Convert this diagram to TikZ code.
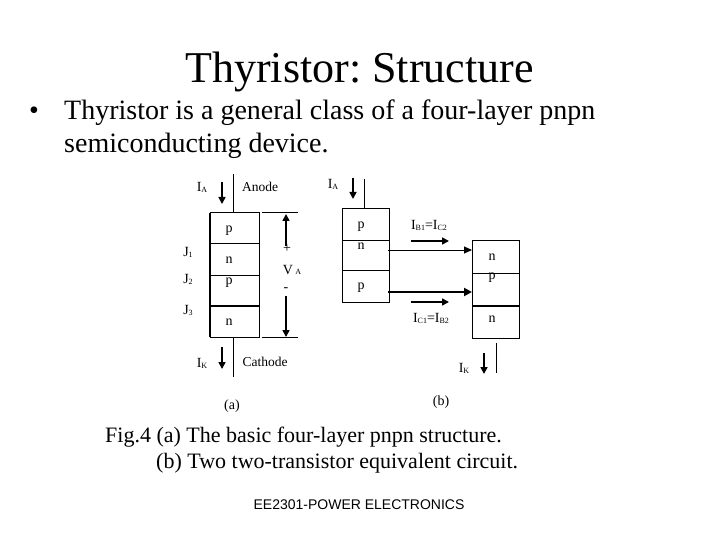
\documentclass[tikz,border=0pt]{standalone}
\usepackage{fontspec}
\setmainfont{Liberation Serif}
\newfontfamily\sansf{Liberation Sans}
\usetikzlibrary{arrows.meta}
\tikzset{
 x=1pt,y=-1pt,
 thin line/.style={line width=1pt,black},
 thick line/.style={line width=2pt,black},
 arr/.style={line width=1.6pt,-{Triangle[length=7pt,width=7pt]}},
 lab/.style={inner sep=0pt,font=\fontsize{14}{14}\selectfont},
 word/.style={inner sep=0pt,font=\fontsize{13.5}{14}\selectfont},
 slide/.style={inner sep=0pt,align=left,anchor=base west},
}
\newcommand{\subl}[2]{#1\raisebox{-1pt}{\fontsize{8}{8}\selectfont #2}}
\begin{document}
\frenchspacing
\begin{tikzpicture}
\useasboundingbox (0,0) rectangle (720,540);
\fill[white] (0,0) rectangle (720,540);
\node[inner sep=0pt,anchor=base] (title) at (359.5,83) {\fontsize{44}{44}\selectfont Thyristor: Structure};
\node[slide] (bullet) at (29,120) {\fontsize{28}{28}\selectfont •};
\node[slide] (b1) at (64,120) {\fontsize{28}{28}\selectfont Thyristor is a general class of a four-layer pnpn};
\node[slide] (b2) at (64,153) {\fontsize{28}{28}\selectfont semiconducting device.};
% (a)
\draw[thin line] (210,213) rectangle (259,337);
\draw[thick line] (210,213) -- (210,337);
\draw[thin line] (210,243) -- (259,243);
\draw[thin line] (210,275) -- (259,275);
\draw[thick line] (210,306) -- (259,306);
\draw[thin line] (233,174) -- (233,213);
\draw[thin line] (233,337) -- (233,377);
\draw[arr] (222,182) -- (222,204);
\draw[arr] (222,347) -- (222,369);
\draw[thin line] (262,213) -- (298,213);
\draw[thin line] (262,337) -- (298,337);
\draw[arr] (286,246) -- (286,214);
\draw[arr] (286,296) -- (286,337);
\node[lab] (ia) at (202,187) {\subl{I}{A}};
\node[word] (an) at (260,187) {Anode};
\node[lab] (p1) at (229,231) {p};
\node[lab] (n1) at (229,260) {n};
\node[lab] (p2) at (229,283) {p};
\node[lab] (n2) at (229,322) {n};
\node[lab] (j1) at (188,252) {\subl{J}{1}};
\node[lab] (j2) at (188,279) {\subl{J}{2}};
\node[lab] (j3) at (188,310) {\subl{J}{3}};
\node[lab] (plus) at (287,249) {+};
\node[lab] (va) at (292,270) {V\,\fontsize{8}{8}\selectfont A};
\node[lab] (minus) at (286,290) {-};
\node[lab] (ik) at (202,363) {\subl{I}{K}};
\node[word] (ca) at (265,362) {Cathode};
\node[lab] (capa) at (232,406) {(a)};
% (b)
\draw[thin line] (342,209) rectangle (389,302);
\draw[thin line] (342,240) -- (389,240);
\draw[thin line] (342,270) -- (389,270);
\draw[thin line] (364,179) -- (364,209);
\draw[arr] (353,178) -- (353,199);
\draw[thin line] (472,240) rectangle (519,338);
\draw[thin line] (472,273) -- (519,273);
\draw[thick line] (472,306) -- (519,306);
\draw[thin line] (496,343) -- (496,373);
\draw[arr] (484,353) -- (484,374);
\draw[line width=1pt,-{Triangle[length=8pt,width=7pt]}] (388,250) -- (472,250);
\draw[line width=2.6pt,-{Triangle[length=8pt,width=8pt]}] (388,292) -- (472,292);
\draw[arr] (411,241) -- (449,241);
\draw[arr] (411,302) -- (449,302);
\node[lab] (ibia) at (333,184) {\subl{I}{A}};
\node[lab] (pb1) at (361,227) {p};
\node[lab] (nb1) at (361,246) {n};
\node[lab] (pb2) at (361,288) {p};
\node[lab] (ib) at (429,225) {\subl{I}{B1}=\subl{I}{C2}};
\node[lab] (ic) at (431,318) {\subl{I}{C1}=\subl{I}{B2}};
\node[lab] (nb2) at (492,257) {n};
\node[lab] (pb3) at (492,278) {p};
\node[lab] (nb3) at (492,319) {n};
\node[lab] (ikb) at (464,368) {\subl{I}{K}};
\node[lab] (capb) at (441,402) {(b)};
% caption
\node[slide] (c1) at (105,442) {\fontsize{22}{22}\selectfont Fig.4 (a) The basic four-layer pnpn structure.};
\node[slide] (c2) at (156,468) {\fontsize{22}{22}\selectfont (b) Two two-transistor equivalent circuit.};
\node[inner sep=0pt,anchor=base] (foot) at (359,509) {\sansf\fontsize{14}{14}\selectfont EE2301-POWER ELECTRONICS};
\end{tikzpicture}
\end{document}
